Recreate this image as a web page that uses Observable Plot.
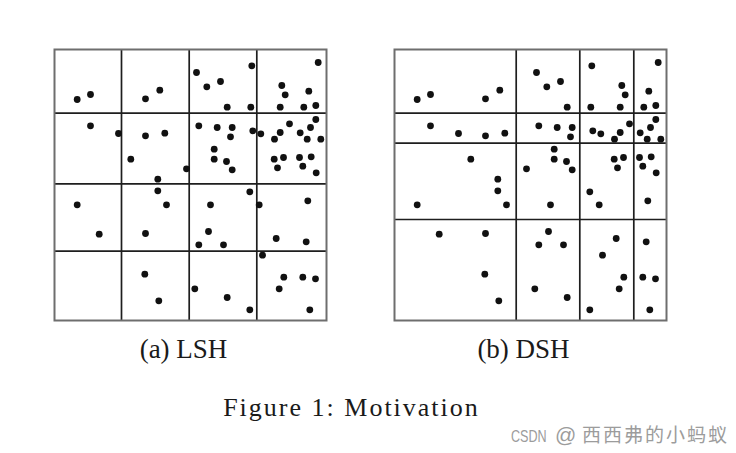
<!DOCTYPE html>
<html>
<head>
<meta charset="utf-8">
<script src="https://cdn.jsdelivr.net/npm/d3@7"></script>
<script src="https://cdn.jsdelivr.net/npm/@observablehq/plot@0.6"></script>
<style>
  html, body { margin: 0; padding: 0; background: #fff; }
  #wrap { position: relative; width: 736px; height: 453px; overflow: hidden; }
  #caption { position: absolute; left: 0; width: 703px; top: 395px; text-align: center;
    font-family: "Liberation Serif", serif; font-size: 26px; line-height: 26px; letter-spacing: 2px; color: #1a1a1a; }
  #mark { position: absolute; left: 511px; top: 423px; height: 24px; line-height: 22px; color: #9c9c9c; white-space: nowrap; }
  #mark span { display: inline-block; vertical-align: baseline; }
  #mark .csdn { font-family: "Liberation Sans", sans-serif; font-size: 17px; width: 44px; transform: scaleX(0.74); transform-origin: left; }
  #mark .at { font-family: "Liberation Sans", sans-serif; font-size: 21px; width: 27px; }
  #mark .cjk { font-family: "Noto Sans CJK SC", sans-serif; font-size: 19px; letter-spacing: 2px; }
</style>
</head>
<body>
<div id="wrap"></div>
<script>
// Panels and their labels
const panels = ["LSH", "DSH"];
const panelLabels = ["(a) LSH", "(b) DSH"];

// Grid split positions (frame units: 272 wide, 271 tall, y downwards)
const lshSplitX = [67, 134.7, 202.3];
const lshSplitY = [63.7, 134.3, 201.7];
const dshSplitX = [121.7, 185.3, 239.3];
const dshSplitY = [63.7, 93.7, 170];

// The same point set is drawn in both panels
const pointX = [
  22.7, 36, 91, 105.3, 142, 152.3, 166, 197.3, 172.7, 196.3, 263.7, 227.3, 230.7, 254.3, 225.7, 249.3, 261.3,
  36, 64, 91, 110.3, 76.3, 132, 103.3, 144.3, 162.7, 177.7, 176, 198.3, 159.7, 159.7, 172, 177.7,
  206.3, 235, 261.3, 256, 225.7, 245.7, 220, 252.7, 266.3, 219.7, 229, 245, 256.7, 223, 248.3, 261.7,
  103.3, 112, 22.7, 44.7, 91, 156, 195.3, 204.7, 154, 144.3, 169, 253.3, 221.7, 251.7, 208,
  90.3, 104.3, 140.3, 172.7, 195.3, 229.3, 248.3, 261, 224.7, 255.3
];
const pointY = [
  50, 45, 49.3, 40.7, 23, 37.3, 32, 16.3, 57.7, 57.7, 13, 36, 45.3, 41.7, 57.7, 57.7, 56,
  76.3, 84, 86.3, 83.7, 109.7, 119.3, 129.7, 76.3, 78, 78, 87.3, 81.3, 99.7, 109.7, 112, 120.3,
  84.3, 74.3, 70, 78, 83, 83.3, 89.7, 89.7, 89.7, 109.7, 108, 108, 107.3, 118.3, 116.7, 123.3,
  141.3, 155.3, 155.3, 184.7, 184, 155.3, 142.3, 155.3, 182, 195.3, 195.3, 151.3, 189, 192.3, 205.7,
  224.7, 251.3, 239.3, 248, 260.3, 227.7, 227.7, 229.3, 239.3, 260.3
];

const dots = panels.flatMap(p => pointX.map((x, i) => ({panel: p, x, y: pointY[i]})));
const vLines = [
  ...lshSplitX.map(x => ({panel: "LSH", x})),
  ...dshSplitX.map(x => ({panel: "DSH", x}))
];
const hLines = [
  ...lshSplitY.map(y => ({panel: "LSH", y})),
  ...dshSplitY.map(y => ({panel: "DSH", y}))
];
const labels = panels.map((p, i) => ({panel: p, text: panelLabels[i]}));

const chart = Plot.plot({
  width: 736,
  height: 365,
  marginTop: 49,
  marginBottom: 45,
  marginLeft: 54,
  marginRight: 70,
  fx: {domain: panels, paddingInner: 0.2, paddingOuter: 0, axis: null},
  x: {domain: [0, 272], axis: null},
  y: {domain: [0, 271], reverse: true, axis: null},
  marks: [
    Plot.ruleX(vLines, {x: "x", fx: "panel", stroke: "#1e1e1e", strokeWidth: 1.7}),
    Plot.ruleY(hLines, {y: "y", fx: "panel", stroke: "#1e1e1e", strokeWidth: 1.7}),
    Plot.dot(dots, {x: "x", y: "y", fx: "panel", r: 3.4, fill: "#111", stroke: "none"}),
    Plot.frame({stroke: "#6e6e6e", strokeWidth: 2}),
    Plot.text(labels, {fx: "panel", text: "text", frameAnchor: "bottom", lineAnchor: "bottom",
      dy: 37, dx: -7, fontSize: 27, fontFamily: "Liberation Serif, serif", fill: "#1a1a1a",
      style: "letter-spacing:1.5px"})
  ]
});
const wrap = document.getElementById("wrap");
wrap.appendChild(chart);

const cap = document.createElement("div");
cap.id = "caption";
cap.textContent = "Figure 1: Motivation";
wrap.appendChild(cap);

const mark = document.createElement("div");
mark.id = "mark";
mark.innerHTML = '<span class="csdn">CSDN</span><span class="at">@</span><span class="cjk">西西弗的小蚂蚁</span>';
wrap.appendChild(mark);
</script>
</body>
</html>
